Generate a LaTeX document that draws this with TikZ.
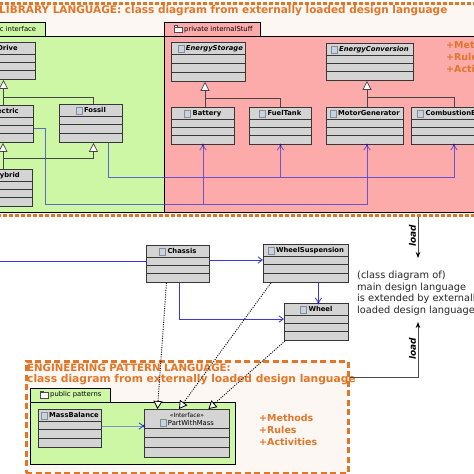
\documentclass[tikz,border=0pt]{standalone}
\usepackage{fontspec}
\setmainfont{DejaVu Sans}
\usetikzlibrary{arrows.meta,calc}
\definecolor{pkggreen}{RGB}{205,247,165}
\definecolor{pkgpink}{RGB}{252,170,170}
\definecolor{clsgray}{RGB}{212,212,212}
\definecolor{clsborder}{RGB}{55,55,55}
\definecolor{orng}{RGB}{224,118,40}
\definecolor{boxbg}{RGB}{253,247,244}
\definecolor{assocc}{RGB}{60,55,215}
\definecolor{assoclight}{RGB}{125,150,195}
\definecolor{navdotc}{RGB}{30,30,170}
\definecolor{iconc}{RGB}{196,212,232}
\definecolor{genc}{RGB}{70,70,70}
\tikzset{
  libbox/.style={draw=orng, fill=boxbg, line width=2.6pt, dash pattern=on 4pt off 2pt, inner sep=0pt, anchor=north west},
  eplbox/.style={draw=orng, fill=boxbg, line width=2.8pt, dash pattern=on 6pt off 3.5pt, inner sep=0pt, anchor=north west},
  pkgbody/.style={draw=black, line width=0.9pt, inner sep=0pt, anchor=north west},
  tabtext/.style={font=\fontsize{6.8}{8}\selectfont, inner sep=0pt, anchor=west},
  foldericon/.style={draw=black!70, fill=white, line width=0.4pt},
  cls/.style={draw=clsborder, fill=clsgray, line width=0.9pt, inner sep=0pt, anchor=north west},
  cline/.style={draw=clsborder, line width=0.7pt},
  cname/.style={font=\fontsize{6.8}{8}\selectfont\bfseries, inner sep=0pt},
  cnamen/.style={font=\fontsize{6.8}{8}\selectfont, inner sep=0pt},
  clsicon/.style={draw=black!45, fill=iconc, line width=0.4pt},
  gen/.style={draw=genc, line width=0.7pt, -{Triangle[open, length=9pt, width=9pt, fill=white]}},
  genline/.style={draw=genc, line width=0.7pt},
  assoc/.style={draw=assocc, draw opacity=0.75, line width=0.9pt},
  assoc2/.style={draw=assocc, line width=0.8pt},
  assoc3/.style={draw=assoclight, line width=0.9pt},
  nav/.style={-{Straight Barb[length=4.5pt, width=6.5pt, line width=0.8pt]}},
  navdark/.style={-{Straight Barb[length=4.5pt, width=6.5pt, line width=0.8pt, color=assocc]}},
  realiz/.style={draw=black, line width=0.9pt, dash pattern=on 1pt off 1.3pt, -{Triangle[open, length=8pt, width=9pt, fill=white, line width=0.8pt]}},
  title/.style={font=\fontsize{10.5}{11}\selectfont\bfseries, text=orng, inner sep=0pt, anchor=west},
  titlea/.style={font=\fontsize{10.2}{12}\selectfont\bfseries, text=orng, inner sep=0pt, anchor=west},
  titleb/.style={font=\fontsize{10.7}{12}\selectfont\bfseries, text=orng, inner sep=0pt, anchor=west},
  extras/.style={font=\fontsize{9.5}{12}\selectfont\bfseries, text=orng, inner sep=0pt, align=left, anchor=west},
  desc/.style={font=\fontsize{9.8}{11.5}\selectfont, text=black!85, inner sep=0pt, align=left, anchor=north west},
  loadarr/.style={draw=black!70, line width=0.8pt, -{Stealth[length=6pt, width=4.5pt, color=black]}},
  loadlbl/.style={font=\fontsize{9}{10}\selectfont\bfseries\itshape, inner sep=0pt, rotate=90},
}
\newcommand\umlcls[7][0]{%
  \node[cls, minimum width=#5pt, minimum height=#6pt] (#2) at (#3,#4) {};
  \draw[cline] ([yshift=-12pt]#2.north west) -- ([yshift=-12pt]#2.north east);
  \draw[cline] ([yshift={-(12+(#6-12)/3)*1pt}]#2.north west) -- ([yshift={-(12+(#6-12)/3)*1pt}]#2.north east);
  \draw[cline] ([yshift={-(12+2*(#6-12)/3)*1pt}]#2.north west) -- ([yshift={-(12+2*(#6-12)/3)*1pt}]#2.north east);
  \node[cname, xshift={(#1+4)*1pt}] (#2-t) at ([yshift=-6.3pt]#2.north) {#7};
  \draw[clsicon] ([xshift=-1.8pt,yshift=3.6pt]#2-t.west) rectangle ++(-6,7.2);
}
\newcommand\foldermark[1]{%
  \draw[foldericon] ([xshift=-2pt,yshift=2.6pt]#1.west) rectangle ++(-8,5.6);
  \draw[foldericon] ([xshift=-6.5pt,yshift=2.6pt]#1.west) rectangle ++(-3.5,-1.4);
}
\newcommand\navdot[1]{\fill[navdotc] (#1) circle (1.3pt);}
\begin{document}
\begin{tikzpicture}[x=1pt,y=-1pt]
\useasboundingbox (0,0) rectangle (474,474);
\fill[white] (0,0) rectangle (474,474);

% ---------- library language box ----------
\node[libbox, minimum width=500pt, minimum height=212pt] (lib) at (-10,2) {};
\node[title] (libtitle) at (-1,10.5) {LIBRARY LANGUAGE: class diagram from externally loaded design language};

% packages
\node[pkgbody, fill=pkggreen, minimum width=174pt, minimum height=176pt] (pubpkg) at (-10,36) {};
\node[pkgbody, fill=pkggreen, minimum width=55pt, minimum height=14pt] (pubtab) at (-10,22) {};
\node[tabtext] (pubtxt) at (-17,29.5) {public interface};
\foldermark{pubtxt}
\node[pkgbody, fill=pkgpink, minimum width=330pt, minimum height=176pt] (privpkg) at (164,36) {};
\node[pkgbody, fill=pkgpink, minimum width=96pt, minimum height=14pt] (privtab) at (164,22) {};
\node[tabtext] (privtxt) at (184,29.5) {private internalStuff};
\foldermark{privtxt}

% classes in public interface
\umlcls{drive}{-29}{42}{64}{37}{Drive}
\umlcls[-3]{elec}{-27}{105}{60}{37}{Electric}
\umlcls{fossil}{59}{104}{63}{38}{Fossil}
\umlcls{hybrid}{-27}{169}{59}{37}{Hybrid}

% classes in private internalStuff
\umlcls[2]{es}{171}{42}{74}{39}{\itshape EnergyStorage}
\umlcls{ec}{326}{43}{87}{37}{\itshape EnergyConversion}
\umlcls{battery}{171}{107}{63}{37}{Battery}
\umlcls{fueltank}{249}{107}{62}{37}{FuelTank}
\umlcls{mg}{326}{107}{77}{37}{MotorGenerator}
\umlcls[3]{ce}{411}{107}{86}{37}{CombustionEngine}

\node[extras] (libx) at (446,57) {+Methods\\+Rules\\+Activities};

% generalizations
\coordinate (j1) at (3,97);
\coordinate (j2) at (3,158);
\coordinate (j3) at (205,98);
\coordinate (j4) at (367,97);
\draw[gen] (elec.north) -- (drive.south);
\draw[genline] ([xshift=2.5pt]fossil.north) |- (j1);
\draw[gen] (hybrid.north) -- (hybrid.north |- elec.south);
\draw[gen] (j2) -| ([xshift=2.5pt]fossil.south);
\draw[gen] (battery.north -| j3) -- (es.south -| j3);
\draw[genline] (fueltank.north) |- (j3);
\draw[gen] (mg.north -| j4) -- (ec.south -| j4);
\draw[genline] (ce.north) |- (j4);

% associations
\coordinate (a1) at (45,204);
\coordinate (a2) at (203,204);
\coordinate (b1) at (454,177);
\draw[assoc, nav] ([yshift=-23pt]elec.north east) -| (a1) -| (mg.south -| j4);
\draw[assoc, nav] (a2) -- (battery.south -| a2);
\draw[assoc, nav] ([xshift=17.5pt]fossil.south) |- (b1) -- (ce.south -| b1);
\draw[assoc, nav] (fueltank.south |- b1) -- (fueltank.south);
\navdot{battery.south -| a2}
\navdot{mg.south -| j4}
\navdot{fueltank.south}
\navdot{ce.south -| b1}

% ---------- main design language ----------
\umlcls{chassis}{146}{245}{63}{37}{Chassis}
\umlcls{ws}{263}{244}{85}{38}{WheelSuspension}
\umlcls{wheel}{284}{303}{64}{37}{Wheel}

\coordinate (l0) at (-2,261);
\draw[assoc2] (l0) -- (l0 -| chassis.west);
\draw[assoc2, nav] ([yshift=-15pt]chassis.north east) -- ([yshift=-15pt]chassis.north east -| ws.west);
\draw[assoc2, nav] ([xshift=1pt]chassis.south) |- ([yshift=-16pt]wheel.north west);
\draw[assoc2, nav] ([xshift=12.5pt]ws.south) -- ([xshift=12.5pt]ws.south |- wheel.north);
\navdot{[xshift=12.5pt]ws.south |- wheel.north}

\node[desc] (desc) at (357,271) {(class diagram of)\\main design language\\is extended by externally\\loaded design language};

% load arrows
\coordinate (ld1e) at (418,258);
\draw[loadarr] (lib.south -| ld1e) -- (ld1e);
\node[loadlbl] (ld1t) at (412.5,236) {load};

% ---------- engineering pattern language ----------
\node[eplbox, minimum width=322pt, minimum height=112pt] (epl) at (25,360) {};
\node[titlea] (epltitle1) at (27,367.5) {ENGINEERING PATTERN LANGUAGE:};
\node[titleb] (epltitle2) at (27,380) {class diagram from externally loaded design language};

\node[pkgbody, fill=pkggreen, minimum width=205pt, minimum height=62pt] (patpkg) at (30,402) {};
\node[pkgbody, fill=pkggreen, minimum width=80pt, minimum height=14pt] (pattab) at (30,388) {};
\node[tabtext] (pattxt) at (50,395) {public patterns};
\foldermark{pattxt}

\umlcls{mb}{38}{409}{63}{38}{MassBalance}
\node[cls, minimum width=85pt, minimum height=48pt] (pwm) at (144,409) {};
\draw[cline] ([yshift=-19pt]pwm.north west) -- ([yshift=-19pt]pwm.north east);
\draw[cline] ([yshift=-28.5pt]pwm.north west) -- ([yshift=-28.5pt]pwm.north east);
\draw[cline] ([yshift=-38pt]pwm.north west) -- ([yshift=-38pt]pwm.north east);
\node[font=\fontsize{6}{7}\selectfont, inner sep=0pt] (pwm-s) at ([yshift=-6pt]pwm.north) {«Interface»};
\node[cnamen, xshift=4pt] (pwm-t) at ([yshift=-14pt]pwm.north) {PartWithMass};
\draw[clsicon] ([xshift=-1.8pt,yshift=3.6pt]pwm-t.west) rectangle ++(-6,7.2);

\node[extras] (eplx) at (259,430) {+Methods\\+Rules\\+Activities};

\draw[assoc3, navdark] ([yshift=-17pt]mb.north east) -- ([yshift=-17pt]mb.north east -| pwm.west);
\navdot{[yshift=-17pt]mb.north east -| pwm.west}

% realizations
\draw[realiz] ([xshift=-11.5pt]chassis.south) -- ([xshift=-29.5pt]pwm.north);
\draw[realiz] ([xshift=8pt]ws.south west) -- ([xshift=-8pt]pwm.north);
\draw[realiz] ([xshift=1pt]wheel.south west) -- ([xshift=21.5pt]pwm.north);

\coordinate (ld2e) at (418,322);
\draw[loadarr] ([yshift=-17pt]epl.north east) -| (ld2e);
\node[loadlbl] (ld2t) at (412.5,349) {load};
\end{tikzpicture}
\end{document}
